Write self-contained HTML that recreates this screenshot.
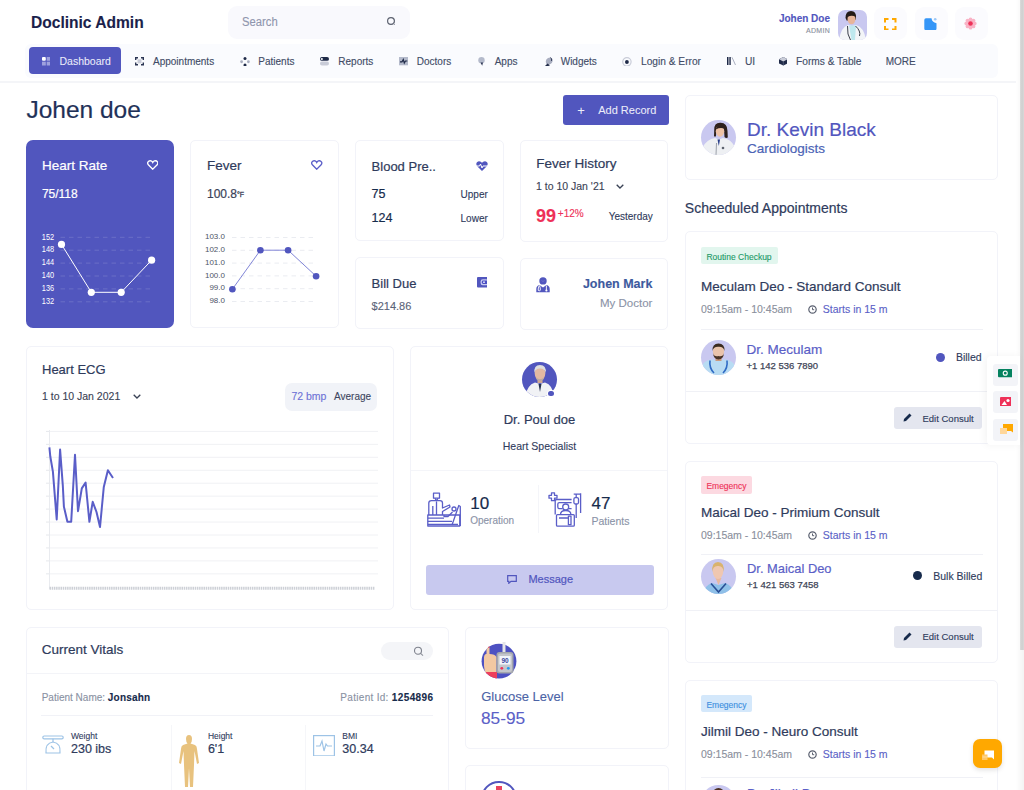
<!DOCTYPE html>
<html><head><meta charset="utf-8"><style>
html,body{margin:0;padding:0;}
body{width:1024px;height:790px;overflow:hidden;position:relative;background:#fff;font-family:"Liberation Sans",sans-serif;}
.t{position:absolute;white-space:nowrap;line-height:1;-webkit-text-stroke:0.12px currentColor;}
.b{position:absolute;}
.m{-webkit-text-stroke:0.2px currentColor;}
.m2{-webkit-text-stroke:0.1px currentColor;}
.m3{-webkit-text-stroke:0.25px currentColor;}
</style></head><body>
<div class="t " style="left:31.00px;top:14.33px;font-size:16.5px;color:#1b1f4b;font-weight:bold;transform:scaleX(0.943);transform-origin:left top;">Doclinic Admin</div>
<div class="b" style="left:228px;top:6px;width:182px;height:33px;background:#f9f9fd;border-radius:9px;"></div>
<div class="t " style="left:242.00px;top:16.17px;font-size:12.5px;color:#8f96ad;font-weight:normal;transform:scaleX(0.9);transform-origin:left top;">Search</div>
<svg class="b" style="left:386px;top:16px;" width="11" height="11" viewBox="0 0 11 11"><circle cx="5" cy="5" r="3.4" fill="none" stroke="#5d6270" stroke-width="1.2"/><path d="M7.5 7.5L8.8 8.8" stroke="#8a8f9c" stroke-width="1"/></svg>
<div class="t " style="left:430.00px;width:400px;text-align:right;top:14.03px;font-size:10px;color:#5156be;font-weight:bold;">Johen Doe</div>
<div class="t " style="left:430.00px;width:400px;text-align:right;top:27.37px;font-size:7px;color:#8a8f9c;font-weight:normal;letter-spacing:0.3px;">ADMIN</div>
<div class="b" style="left:838px;top:10px;width:29px;height:30px;background:#c9c8f0;border-radius:7px;overflow:hidden;"><svg width="29" height="30" viewBox="0 0 29 30"><path d="M1 30 Q3 17 10 15 L14 16 L18 15 Q26 17 28 30Z" fill="#f3f5f8"/><path d="M11 15.5 L13.5 30 L17 30 L18 15.5Z" fill="#bfe8ee"/><path d="M9.5 16 Q9 25 12.5 30 M17.5 16 Q23 21 21.5 26" fill="none" stroke="#3b3f4a" stroke-width="1"/><path d="M7.5 8 Q7.5 1 13 1 Q18.5 1 18 8 L17.5 10 Q14 5 9 11Z" fill="#231a18"/><ellipse cx="13.5" cy="9" rx="4" ry="5.2" fill="#e7b59a"/><path d="M9.5 7 Q10 3 13.5 3 Q17.5 3 17.8 7 Q14 4.5 9.5 7Z" fill="#231a18"/></svg></div>
<div class="b" style="left:874px;top:7px;width:33px;height:33px;background:#fbfbfe;border-radius:9px;"></div>
<div class="b" style="left:914.5px;top:7px;width:33px;height:33px;background:#fbfbfe;border-radius:9px;"></div>
<div class="b" style="left:955px;top:7px;width:33px;height:33px;background:#fbfbfe;border-radius:9px;"></div>
<svg class="b" style="left:884px;top:17.5px;" width="12.5" height="12.5" viewBox="0 0 12.5 12.5"><path d="M1 4.5V1h3.5M8 1h3.5v3.5M11.5 8v3.5H8M4.5 11.5H1V8" fill="none" stroke="#ffa800" stroke-width="2"/></svg>
<svg class="b" style="left:924px;top:17.5px;" width="13" height="12.5" viewBox="0 0 13 12.5"><path d="M0.3 2Q0.3 0.3 2 0.3H7.5Q8 4.5 12.5 5.2V10.5Q12.5 12.2 10.8 12.2H2Q0.3 12.2 0.3 10.5Z" fill="#3596f7"/><circle cx="11.2" cy="1.3" r="1.3" fill="#9cc8f7"/></svg>
<svg class="b" style="left:964px;top:17.2px;" width="13" height="13" viewBox="0 0 13 13"><circle cx="10.70" cy="6.50" r="1.9" fill="#f9b3c6"/><circle cx="9.47" cy="9.47" r="1.9" fill="#f9b3c6"/><circle cx="6.50" cy="10.70" r="1.9" fill="#f9b3c6"/><circle cx="3.53" cy="9.47" r="1.9" fill="#f9b3c6"/><circle cx="2.30" cy="6.50" r="1.9" fill="#f9b3c6"/><circle cx="3.53" cy="3.53" r="1.9" fill="#f9b3c6"/><circle cx="6.50" cy="2.30" r="1.9" fill="#f9b3c6"/><circle cx="9.47" cy="3.53" r="1.9" fill="#f9b3c6"/><circle cx="6.5" cy="6.5" r="4" fill="#f9b3c6"/><circle cx="6.5" cy="6.5" r="2.3" fill="#ee3158"/></svg>
<div class="b" style="left:25px;top:43.5px;width:973px;height:34px;background:#fafbfe;border-radius:6px;"></div>
<div class="b" style="left:0px;top:81px;width:1016px;height:2px;background:#f4f5f8;"></div>
<div class="b" style="left:29px;top:47px;width:92px;height:27px;background:#5156be;border-radius:4px;"></div>
<svg class="b" style="left:41.5px;top:57px;" width="8.5" height="8.5" viewBox="0 0 8.5 8.5"><rect x="0" y="0" width="3.8" height="3.8" rx="1" fill="#fff"/><rect x="4.7" y="0" width="3.8" height="3.8" fill="#9ea1de"/><rect x="0" y="4.7" width="3.8" height="3.8" fill="#9ea1de"/><rect x="4.7" y="4.7" width="3.8" height="3.8" fill="#9ea1de"/></svg>
<div class="t " style="left:59.50px;top:55.91px;font-size:10.5px;color:#ecedfa;font-weight:normal;-webkit-text-stroke:0.05px currentColor;">Dashboard</div>
<div class="t " style="left:153.00px;top:56.93px;font-size:10px;color:#414b66;font-weight:normal;transform:scaleX(1.0);transform-origin:left top;">Appointments</div>
<div class="t " style="left:258.30px;top:56.93px;font-size:10px;color:#414b66;font-weight:normal;transform:scaleX(1.0);transform-origin:left top;">Patients</div>
<div class="t " style="left:338.30px;top:56.93px;font-size:10px;color:#414b66;font-weight:normal;transform:scaleX(1.0);transform-origin:left top;">Reports</div>
<div class="t " style="left:416.80px;top:56.93px;font-size:10px;color:#414b66;font-weight:normal;transform:scaleX(1.0);transform-origin:left top;">Doctors</div>
<div class="t " style="left:494.70px;top:56.93px;font-size:10px;color:#414b66;font-weight:normal;transform:scaleX(1.0);transform-origin:left top;">Apps</div>
<div class="t " style="left:560.70px;top:56.93px;font-size:10px;color:#414b66;font-weight:normal;transform:scaleX(1.0);transform-origin:left top;">Widgets</div>
<div class="t " style="left:641.00px;top:55.91px;font-size:10.5px;color:#414b66;font-weight:normal;transform:scaleX(0.97);transform-origin:left top;">Login &amp; Error</div>
<div class="t " style="left:744.80px;top:55.91px;font-size:10.5px;color:#414b66;font-weight:normal;transform:scaleX(0.97);transform-origin:left top;">UI</div>
<div class="t " style="left:796.00px;top:55.91px;font-size:10.5px;color:#414b66;font-weight:normal;transform:scaleX(0.97);transform-origin:left top;">Forms &amp; Table</div>
<div class="t " style="left:885.70px;top:56.93px;font-size:10px;color:#414b66;font-weight:normal;transform:scaleX(1.0);transform-origin:left top;">MORE</div>
<svg class="b" style="left:135px;top:57px;" width="9" height="8.5" viewBox="0 0 9 8.5"><path d="M0.7 3V0.7H3M6 0.7H8.3V3M8.3 5.5V7.8H6M3 7.8H0.7V5.5" fill="none" stroke="#2b3553" stroke-width="1.4"/><rect x="2.5" y="2.3" width="4" height="4" fill="#c9ccd8"/></svg>
<svg class="b" style="left:240px;top:56.5px;" width="10" height="9.5" viewBox="0 0 10 9.5"><circle cx="5" cy="1.6" r="1.5" fill="#1f2a48"/><circle cx="5" cy="7.9" r="1.5" fill="#1f2a48"/><circle cx="1.6" cy="4.75" r="1.4" fill="#a9aec0"/><circle cx="8.4" cy="4.75" r="1.4" fill="#a9aec0"/></svg>
<svg class="b" style="left:320px;top:57px;" width="9" height="8.5" viewBox="0 0 9 8.5"><rect x="0" y="0" width="9" height="3.8" rx="1.9" fill="#1f2a48"/><circle cx="1.9" cy="1.9" r="1" fill="#fff"/><rect x="0" y="4.6" width="9" height="3.8" rx="1.9" fill="#c9ccd8"/></svg>
<svg class="b" style="left:398.8px;top:57.3px;" width="9.3" height="8.3" viewBox="0 0 9.3 8.3"><rect x="0" y="0" width="9.3" height="8.3" fill="#b4bacb"/><path d="M1 4.8H3L4.3 2.5L5.3 6L6.5 4H8.3" fill="none" stroke="#1f2a48" stroke-width="1.2"/></svg>
<svg class="b" style="left:478.4px;top:56.8px;" width="7" height="9" viewBox="0 0 7 9"><circle cx="3.5" cy="3.3" r="3.2" fill="#b4bacb"/><path d="M2.5 5.5L4.2 8.8L5 5.5Z" fill="#2b3553"/></svg>
<svg class="b" style="left:543.5px;top:56.7px;" width="9" height="9.2" viewBox="0 0 9 9.2"><path d="M2.5 7 Q0.5 3 4 1 Q7.5 -0.5 8.7 2.5 Q9 6 5.5 7.5Z" fill="#a9aec0"/><path d="M1 9 L3.5 6.5 L6 8.2 L4 9.2Z" fill="#1f2a48"/><path d="M6.5 0.5 Q8 1.5 7.5 4" fill="none" stroke="#2b3553" stroke-width="0.9"/></svg>
<svg class="b" style="left:622.2px;top:56.7px;" width="9.8" height="9.7" viewBox="0 0 9.8 9.7"><circle cx="4.9" cy="4.85" r="4.2" fill="none" stroke="#c9ccd8" stroke-width="1.2"/><circle cx="4.9" cy="5" r="1.9" fill="#1f2a48"/></svg>
<svg class="b" style="left:727.4px;top:57px;" width="9" height="8.2" viewBox="0 0 9 8.2"><rect x="0" y="0" width="1.5" height="8.2" fill="#1f2a48"/><rect x="2.3" y="0" width="1.5" height="8.2" fill="#2b3553"/><path d="M5 0.3L8.5 8" stroke="#a9aec0" stroke-width="1"/></svg>
<svg class="b" style="left:778.6px;top:57px;" width="8.6" height="8.6" viewBox="0 0 8.6 8.6"><path d="M4.3 0L8.6 2.2V6.4L4.3 8.6L0 6.4V2.2Z" fill="#1f2a48"/><path d="M4.3 0L8.6 2.2L4.3 4.4L0 2.2Z" fill="#c9ccd8"/><path d="M4.3 4.4V8.6" stroke="#6c7390" stroke-width="0.6"/></svg>
<div class="b" style="left:1016px;top:0px;width:8px;height:790px;background:linear-gradient(to right,#fff,#f3f3f3);"></div>
<div class="b" style="left:1020px;top:0px;width:3.5px;height:650px;background:linear-gradient(to right,#dcdcdc,#cfcfcf,#d8d8d8);"></div>
<div class="t m" style="left:26.40px;top:98.16px;font-size:24.5px;color:#1f3158;font-weight:normal;">Johen doe</div>
<div class="b" style="left:563px;top:95px;width:106px;height:30px;background:#5156be;border-radius:3px;"></div>
<div class="t " style="left:577.30px;top:103.59px;font-size:13px;color:#ecedfa;font-weight:normal;-webkit-text-stroke:0;">+</div>
<div class="t " style="left:598.20px;top:105.49px;font-size:11px;color:#ecedfa;font-weight:normal;-webkit-text-stroke:0.05px currentColor;">Add Record</div>
<div class="b" style="left:26px;top:140px;width:148px;height:188px;background:#5156be;border-radius:7px;"></div>
<div class="t m" style="left:42.00px;top:159.07px;font-size:13.5px;color:#fff;font-weight:normal;">Heart Rate</div>
<div class="t m" style="left:41.90px;top:187.64px;font-size:12px;color:#fff;font-weight:normal;">75/118</div>
<svg class="b" style="left:146.5px;top:160.2px;" width="11.5" height="10" viewBox="0 0 13 11"><path d="M6.5 10.2 L1.8 5.6 Q0.2 3.8 1 2.2 Q2.4 0.2 4.6 0.9 Q5.9 1.4 6.5 2.6 Q7.1 1.4 8.4 0.9 Q10.6 0.2 12 2.2 Q12.8 3.8 11.2 5.6 Z" fill="none" stroke="#fff" stroke-width="1.5"/></svg>
<svg class="b" style="left:0;top:0" width="1024" height="790"><line x1="60.5" y1="237.3" x2="152.6" y2="237.3" stroke="rgba(255,255,255,0.15)" stroke-width="1" stroke-dasharray="4.5 4"/><text x="41.8" y="239.5" font-size="8.2" fill="#fff" font-family="Liberation Sans" textLength="12.3" lengthAdjust="spacingAndGlyphs">152</text><line x1="60.5" y1="250.20000000000002" x2="152.6" y2="250.20000000000002" stroke="rgba(255,255,255,0.15)" stroke-width="1" stroke-dasharray="4.5 4"/><text x="41.8" y="252.4" font-size="8.2" fill="#fff" font-family="Liberation Sans" textLength="12.3" lengthAdjust="spacingAndGlyphs">148</text><line x1="60.5" y1="263.1" x2="152.6" y2="263.1" stroke="rgba(255,255,255,0.15)" stroke-width="1" stroke-dasharray="4.5 4"/><text x="41.8" y="265.3" font-size="8.2" fill="#fff" font-family="Liberation Sans" textLength="12.3" lengthAdjust="spacingAndGlyphs">144</text><line x1="60.5" y1="276.0" x2="152.6" y2="276.0" stroke="rgba(255,255,255,0.15)" stroke-width="1" stroke-dasharray="4.5 4"/><text x="41.8" y="278.2" font-size="8.2" fill="#fff" font-family="Liberation Sans" textLength="12.3" lengthAdjust="spacingAndGlyphs">140</text><line x1="60.5" y1="288.90000000000003" x2="152.6" y2="288.90000000000003" stroke="rgba(255,255,255,0.15)" stroke-width="1" stroke-dasharray="4.5 4"/><text x="41.8" y="291.1" font-size="8.2" fill="#fff" font-family="Liberation Sans" textLength="12.3" lengthAdjust="spacingAndGlyphs">136</text><line x1="60.5" y1="301.8" x2="152.6" y2="301.8" stroke="rgba(255,255,255,0.15)" stroke-width="1" stroke-dasharray="4.5 4"/><text x="41.8" y="304.0" font-size="8.2" fill="#fff" font-family="Liberation Sans" textLength="12.3" lengthAdjust="spacingAndGlyphs">132</text><polyline points="61.5,244.4 91.3,292.3 121.2,292.3 151.6,260.2" fill="none" stroke="#fff" stroke-width="1"/><circle cx="61.5" cy="244.4" r="3.6" fill="#fff"/><circle cx="91.3" cy="292.3" r="3.6" fill="#fff"/><circle cx="121.2" cy="292.3" r="3.6" fill="#fff"/><circle cx="151.6" cy="260.2" r="3.6" fill="#fff"/></svg><div class="b" style="left:190px;top:140px;width:149px;height:188px;background:#fff;border:1px solid #f2f3f9;border-radius:5px;box-sizing:border-box;"></div>
<div class="t m" style="left:206.90px;top:158.97px;font-size:13.5px;color:#2f3b5c;font-weight:normal;">Fever</div>
<div class="t m" style="left:207.00px;top:187.64px;font-size:12px;color:#3a4258;font-weight:normal;">100.8<span style="font-size:7px;vertical-align:1px;-webkit-text-stroke:0.3px currentColor">°F</span></div>
<svg class="b" style="left:311px;top:160.2px;" width="11.5" height="10" viewBox="0 0 13 11"><path d="M6.5 10.2 L1.8 5.6 Q0.2 3.8 1 2.2 Q2.4 0.2 4.6 0.9 Q5.9 1.4 6.5 2.6 Q7.1 1.4 8.4 0.9 Q10.6 0.2 12 2.2 Q12.8 3.8 11.2 5.6 Z" fill="none" stroke="#5a5ec8" stroke-width="1.5"/></svg>
<svg class="b" style="left:0;top:0" width="1024" height="790"><line x1="232" y1="237.5" x2="317" y2="237.5" stroke="#eaecf1" stroke-width="1" stroke-dasharray="4.5 4"/><text x="225" y="239.1" font-size="8" fill="#4e5466" text-anchor="end" font-family="Liberation Sans">103.0</text><line x1="232" y1="250.3" x2="317" y2="250.3" stroke="#eaecf1" stroke-width="1" stroke-dasharray="4.5 4"/><text x="225" y="251.9" font-size="8" fill="#4e5466" text-anchor="end" font-family="Liberation Sans">102.0</text><line x1="232" y1="263.1" x2="317" y2="263.1" stroke="#eaecf1" stroke-width="1" stroke-dasharray="4.5 4"/><text x="225" y="264.70000000000005" font-size="8" fill="#4e5466" text-anchor="end" font-family="Liberation Sans">101.0</text><line x1="232" y1="275.9" x2="317" y2="275.9" stroke="#eaecf1" stroke-width="1" stroke-dasharray="4.5 4"/><text x="225" y="277.5" font-size="8" fill="#4e5466" text-anchor="end" font-family="Liberation Sans">100.0</text><line x1="232" y1="288.7" x2="317" y2="288.7" stroke="#eaecf1" stroke-width="1" stroke-dasharray="4.5 4"/><text x="225" y="290.3" font-size="8" fill="#4e5466" text-anchor="end" font-family="Liberation Sans">99.0</text><line x1="232" y1="301.5" x2="317" y2="301.5" stroke="#eaecf1" stroke-width="1" stroke-dasharray="4.5 4"/><text x="225" y="303.1" font-size="8" fill="#4e5466" text-anchor="end" font-family="Liberation Sans">98.0</text><polyline points="232.4,289.2 260.4,250.2 288.1,250.2 316.1,276.2" fill="none" stroke="#7377d2" stroke-width="0.9"/><circle cx="232.4" cy="289.2" r="3.3" fill="#5156be"/><circle cx="260.4" cy="250.2" r="3.3" fill="#5156be"/><circle cx="288.1" cy="250.2" r="3.3" fill="#5156be"/><circle cx="316.1" cy="276.2" r="3.3" fill="#5156be"/></svg><div class="b" style="left:355px;top:140px;width:149px;height:101px;background:#fff;border:1px solid #f2f3f9;border-radius:5px;box-sizing:border-box;"></div>
<div class="t m" style="left:371.60px;top:159.69px;font-size:13px;color:#2f3b5c;font-weight:normal;">Blood Pre..</div>
<svg class="b" style="left:476px;top:160.5px;" width="12" height="10" viewBox="0 0 12 10"><path d="M6 10 L1.2 5.2 Q-0.5 3 1 1.3 Q2.7 -0.5 4.8 0.8 Q5.6 1.3 6 2 Q6.4 1.3 7.2 0.8 Q9.3 -0.5 11 1.3 Q12.5 3 10.8 5.2 Z" fill="#5156be"/><path d="M0.5 5H3.5L4.5 3L6 7L7 5H11.5" fill="none" stroke="#fff" stroke-width="1"/></svg>
<div class="t m" style="left:371.60px;top:188.32px;font-size:12.5px;color:#172b4c;font-weight:normal;">75</div>
<div class="t " style="left:87.80px;width:400px;text-align:right;top:189.93px;font-size:10px;color:#2f3b5c;font-weight:normal;">Upper</div>
<div class="t m" style="left:371.60px;top:211.52px;font-size:12.5px;color:#172b4c;font-weight:normal;">124</div>
<div class="t " style="left:87.80px;width:400px;text-align:right;top:213.63px;font-size:10px;color:#2f3b5c;font-weight:normal;">Lower</div>
<div class="b" style="left:520px;top:140px;width:148px;height:102px;background:#fff;border:1px solid #f2f3f9;border-radius:5px;box-sizing:border-box;"></div>
<div class="t m" style="left:536.20px;top:156.77px;font-size:13.5px;color:#2f3b5c;font-weight:normal;">Fever History</div>
<div class="t " style="left:536.00px;top:181.21px;font-size:10.5px;color:#3a4255;font-weight:normal;">1 to 10 Jan '21</div>
<svg class="b" style="left:616px;top:183.5px;" width="8" height="5" viewBox="0 0 8 5"><path d="M0.7 0.7L4 4L7.3 0.7" fill="none" stroke="#3a4255" stroke-width="1.3"/></svg>
<div class="t " style="left:536.00px;top:207.34px;font-size:18.5px;color:#ee3158;font-weight:bold;transform:scaleX(0.97);transform-origin:left top;">99</div>
<div class="t " style="left:557.80px;top:208.73px;font-size:10px;color:#ee3158;font-weight:normal;">+12%</div>
<div class="t " style="left:252.80px;width:400px;text-align:right;top:212.03px;font-size:10px;color:#2f3b5c;font-weight:normal;">Yesterday</div>
<div class="b" style="left:355px;top:257px;width:149px;height:72px;background:#fff;border:1px solid #f2f3f9;border-radius:5px;box-sizing:border-box;"></div>
<div class="t m" style="left:371.60px;top:276.69px;font-size:13px;color:#2f3b5c;font-weight:normal;">Bill Due</div>
<div class="t " style="left:371.60px;top:300.89px;font-size:11px;color:#5a6378;font-weight:normal;">$214.86</div>
<svg class="b" style="left:476.5px;top:277px;" width="10.5" height="10.5" viewBox="0 0 10.5 10.5"><rect x="0" y="0" width="10.5" height="10.5" rx="1" fill="#5156be"/><rect x="3.6" y="2.2" width="7.5" height="6" rx="2.2" fill="#c9cbf0"/><rect x="4.8" y="3.4" width="6" height="3.6" rx="1.4" fill="#4a4ec4"/><circle cx="7" cy="5.2" r="0.9" fill="#e8e9fa"/></svg>
<div class="b" style="left:520px;top:258px;width:148px;height:72px;background:#fff;border:1px solid #f2f3f9;border-radius:5px;box-sizing:border-box;"></div>
<div class="t " style="left:252.40px;width:400px;text-align:right;top:278.42px;font-size:12.5px;color:#3d5a9e;font-weight:bold;">Johen Mark</div>
<div class="t " style="left:252.40px;width:400px;text-align:right;top:297.56px;font-size:11.5px;color:#8b93a7;font-weight:normal;">My Doctor</div>
<svg class="b" style="left:535.8px;top:277px;" width="14" height="15.5" viewBox="0 0 14 15.5"><circle cx="7" cy="3.9" r="3.7" fill="#5156be"/><path d="M0.3 15.3 V12 Q0.3 8.6 3.5 7.9 L7 10.4 L10.5 7.9 Q13.7 8.6 13.7 12 V15.3Z" fill="#5156be"/><path d="M3.2 8.6 Q2 11 2.2 13.3 Q3.2 14.3 4.3 13.3 Q4.5 11 3.6 8.6 M10.4 8.6 V13.5" fill="none" stroke="#fff" stroke-width="0.9"/><circle cx="10.4" cy="13.5" r="1.1" fill="#fff"/><path d="M5.5 3.5 Q7 5.5 8.5 3.5" fill="none" stroke="#7d80d4" stroke-width="0.6"/></svg>
<div class="b" style="left:26px;top:346px;width:368px;height:264px;background:#fff;border:1px solid #f2f3f9;border-radius:5px;box-sizing:border-box;"></div>
<div class="t m" style="left:42.00px;top:362.69px;font-size:13px;color:#2f3b5c;font-weight:normal;">Heart ECG</div>
<div class="t " style="left:42.00px;top:391.21px;font-size:10.5px;color:#3a4255;font-weight:normal;">1 to 10 Jan 2021</div>
<svg class="b" style="left:132.5px;top:393.5px;" width="8" height="5" viewBox="0 0 8 5"><path d="M0.7 0.7L4 4L7.3 0.7" fill="none" stroke="#3a4255" stroke-width="1.3"/></svg>
<div class="b" style="left:285px;top:382.5px;width:92px;height:28.5px;background:#f1f3f8;border-radius:7px;"></div>
<div class="t " style="left:291.40px;top:391.31px;font-size:10.5px;color:#6d71d6;font-weight:normal;">72 bmp</div>
<div class="t m2" style="left:334.00px;top:391.73px;font-size:10px;color:#3d4660;font-weight:normal;">Average</div>
<svg class="b" style="left:0;top:0" width="1024" height="790"><line x1="49.5" y1="431.4" x2="378" y2="431.4" stroke="#f0f1f4" stroke-width="1"/><line x1="46" y1="431.4" x2="49.5" y2="431.4" stroke="#e6e8ec" stroke-width="1"/><line x1="49.5" y1="444.34999999999997" x2="378" y2="444.34999999999997" stroke="#f0f1f4" stroke-width="1"/><line x1="46" y1="444.34999999999997" x2="49.5" y2="444.34999999999997" stroke="#e6e8ec" stroke-width="1"/><line x1="49.5" y1="457.29999999999995" x2="378" y2="457.29999999999995" stroke="#f0f1f4" stroke-width="1"/><line x1="46" y1="457.29999999999995" x2="49.5" y2="457.29999999999995" stroke="#e6e8ec" stroke-width="1"/><line x1="49.5" y1="470.25" x2="378" y2="470.25" stroke="#f0f1f4" stroke-width="1"/><line x1="46" y1="470.25" x2="49.5" y2="470.25" stroke="#e6e8ec" stroke-width="1"/><line x1="49.5" y1="483.2" x2="378" y2="483.2" stroke="#f0f1f4" stroke-width="1"/><line x1="46" y1="483.2" x2="49.5" y2="483.2" stroke="#e6e8ec" stroke-width="1"/><line x1="49.5" y1="496.15" x2="378" y2="496.15" stroke="#f0f1f4" stroke-width="1"/><line x1="46" y1="496.15" x2="49.5" y2="496.15" stroke="#e6e8ec" stroke-width="1"/><line x1="49.5" y1="509.09999999999997" x2="378" y2="509.09999999999997" stroke="#f0f1f4" stroke-width="1"/><line x1="46" y1="509.09999999999997" x2="49.5" y2="509.09999999999997" stroke="#e6e8ec" stroke-width="1"/><line x1="49.5" y1="522.05" x2="378" y2="522.05" stroke="#f0f1f4" stroke-width="1"/><line x1="46" y1="522.05" x2="49.5" y2="522.05" stroke="#e6e8ec" stroke-width="1"/><line x1="49.5" y1="535.0" x2="378" y2="535.0" stroke="#f0f1f4" stroke-width="1"/><line x1="46" y1="535.0" x2="49.5" y2="535.0" stroke="#e6e8ec" stroke-width="1"/><line x1="49.5" y1="547.9499999999999" x2="378" y2="547.9499999999999" stroke="#f0f1f4" stroke-width="1"/><line x1="46" y1="547.9499999999999" x2="49.5" y2="547.9499999999999" stroke="#e6e8ec" stroke-width="1"/><line x1="49.5" y1="560.9" x2="378" y2="560.9" stroke="#f0f1f4" stroke-width="1"/><line x1="46" y1="560.9" x2="49.5" y2="560.9" stroke="#e6e8ec" stroke-width="1"/><line x1="49.5" y1="573.8499999999999" x2="378" y2="573.8499999999999" stroke="#f0f1f4" stroke-width="1"/><line x1="46" y1="573.8499999999999" x2="49.5" y2="573.8499999999999" stroke="#e6e8ec" stroke-width="1"/><line x1="49.5" y1="430" x2="49.5" y2="589" stroke="#e9ebef" stroke-width="1"/><line x1="49.5" y1="588.3" x2="375" y2="588.3" stroke="#cdd0d6" stroke-width="3" stroke-dasharray="1.5 0.7"/><polyline points="49.4,447.4 50.3,456.5 52.9,471.7 56.7,519.5 60.1,449.6 62.8,485.3 63.9,506.6 67.4,521.8 71.2,521.8 75,454.7 78,511.2 81.8,488.4 85.6,482.6 89.4,521.8 92.7,501.8 96.5,512 100,527.1 103.8,486.9 107.9,470.2 113,478" fill="none" stroke="#5a5ec8" stroke-width="2" stroke-linejoin="round"/></svg><div class="b" style="left:410px;top:346px;width:258px;height:264px;background:#fff;border:1px solid #f2f3f9;border-radius:5px;box-sizing:border-box;"></div>
<div class="b" style="left:411px;top:469.5px;width:256px;height:1px;background:#f4f5f9;"></div>
<div class="b" style="left:522px;top:362px;width:35px;height:35px;background:#5156be;border-radius:50%;overflow:hidden;"><svg width="35" height="35" viewBox="0 0 35 35"><path d="M3 35 Q5 23 13 20.5 L18 22 L23 20.5 Q31 23 32 35Z" fill="#f1f2f5"/><path d="M16.5 22 L18 30 L19.5 22Z" fill="#26324f"/><rect x="15.5" y="16" width="5" height="5" fill="#d3a88f"/><ellipse cx="18" cy="11.5" rx="5.3" ry="7" fill="#e2b9a2"/><path d="M12.5 11 Q11.5 3 18 3 Q24.5 3 23.8 11 Q23 6.5 18 6.5 Q13 6.5 12.5 11Z" fill="#dedede"/><path d="M14 15.5 Q18 19 22 15.5 Q22 18.5 18 19 Q14 18.5 14 15.5Z" fill="#b9a9a0"/></svg></div>
<div class="b" style="left:548px;top:390.5px;width:5.5px;height:5.5px;background:#5156be;border-radius:50%;box-shadow:0 0 0 1px #fff;"></div>
<div class="t m" style="left:339.50px;width:400px;text-align:center;top:412.69px;font-size:13px;color:#2f3b5c;font-weight:normal;">Dr. Poul doe</div>
<div class="t m2" style="left:339.50px;width:400px;text-align:center;top:441.01px;font-size:10.5px;color:#2f3b5c;font-weight:normal;">Heart Specialist</div>
<div class="t m" style="left:470.20px;top:494.71px;font-size:17px;color:#172b4c;font-weight:normal;">10</div>
<div class="t " style="left:470.20px;top:515.93px;font-size:10px;color:#8b93a7;font-weight:normal;">Operation</div>
<div class="t m" style="left:591.50px;top:494.71px;font-size:17px;color:#172b4c;font-weight:normal;">47</div>
<div class="t " style="left:591.50px;top:515.51px;font-size:10.5px;color:#8b93a7;font-weight:normal;">Patients</div>
<div class="b" style="left:538px;top:485px;width:1px;height:48px;background:#f4f5f9;"></div>
<svg class="b" style="left:422px;top:488px;" width="44" height="42" viewBox="0 0 44 42"><g fill="none" stroke="#5a5ec8" stroke-width="1.3" stroke-linejoin="round"><rect x="5.8" y="27" width="32" height="11"/><path d="M5.8 30.2H22M5.8 33.4H30M5.8 36.4H36"/><rect x="11.5" y="5.2" width="6" height="5"/><path d="M13 10.2L14.5 13L16 10.2"/><path d="M6.8 27V15Q6.8 12.6 9.5 12.6H18Q20.5 12.6 20.5 15V20L27.5 17L28 19L20.5 23.5V27"/><path d="M10.8 18V27M14.5 14V27"/><path d="M30 37L36.8 17.5L38.3 18.5V38"/><circle cx="32" cy="21" r="2"/><path d="M22 27V28.5H26L30.5 24"/></g></svg>
<svg class="b" style="left:545px;top:488px;" width="42" height="42" viewBox="0 0 42 42"><g fill="none" stroke="#5a5ec8" stroke-width="1.3" stroke-linejoin="round"><path d="M6.5 4.8H9.5V7.3H12V10.2H9.5V12.7H6.5V10.2H4V7.3H6.5Z"/><path d="M26.6 11.5H11.8Q10.2 11.5 10.2 13.1V26.5"/><path d="M26.6 14.6H14.3Q12.8 14.6 12.8 16.2V19Q12.8 20.6 14.3 20.6H17.5M24 20.6H26.6"/><circle cx="20.7" cy="19" r="3"/><path d="M15.5 26.6Q15.5 22.5 20.7 22.5Q25.9 22.5 25.9 26.6"/><rect x="11.5" y="26.6" width="17.8" height="11.6" rx="1"/><path d="M14 30H23.4M23.4 28.2V36.7H26V28.2Z"/><path d="M35.6 5.3V25M28.7 6.1H36.2"/><rect x="28.9" y="9.6" width="4.6" height="6.4" rx="1.5"/><path d="M31.2 6.1V9.6M31.2 16V30"/></g></svg>
<div class="b" style="left:425.5px;top:564.5px;width:228px;height:30px;background:#c8c9ef;border-radius:3px;"></div>
<svg class="b" style="left:507px;top:575px;" width="10" height="9" viewBox="0 0 10 9"><path d="M0.7 0.7H9.3V6.3H4L1.8 8.3V6.3H0.7Z" fill="none" stroke="#5156be" stroke-width="1.2"/></svg>
<div class="t m" style="left:528.40px;top:574.29px;font-size:11px;color:#5156be;font-weight:normal;">Message</div>
<div class="b" style="left:26px;top:626.5px;width:423px;height:200px;background:#fff;border:1px solid #f2f3f9;border-radius:5px;box-sizing:border-box;"></div>
<div class="b" style="left:27px;top:673px;width:421px;height:1px;background:#f3f4f8;"></div>
<div class="t m" style="left:41.70px;top:643.47px;font-size:13.5px;color:#2f3b5c;font-weight:normal;">Current Vitals</div>
<div class="b" style="left:381px;top:642.3px;width:51.6px;height:18px;background:#f4f5f8;border-radius:9px;"></div>
<svg class="b" style="left:413px;top:645.5px;" width="11" height="11" viewBox="0 0 11 11"><circle cx="5" cy="4.7" r="3.5" fill="none" stroke="#7d818c" stroke-width="1.1"/><path d="M7.6 7.3L10 9.6" stroke="#8e929c" stroke-width="1.1"/></svg>
<div class="t " style="left:41.70px;top:692.93px;font-size:10px;color:#8a92a3;font-weight:normal;">Patient Name: <b style="color:#172b4c;letter-spacing:0.2px">Jonsahn</b></div>
<div class="t " style="left:33.50px;width:400px;text-align:right;top:692.93px;font-size:10px;color:#8a92a3;font-weight:normal;letter-spacing:0.3px;">Patient Id: <b style="color:#172b4c;letter-spacing:0.4px">1254896</b></div>
<div class="b" style="left:41px;top:715px;width:392px;height:1px;background:#f1f2f7;"></div>
<div class="b" style="left:170.5px;top:725px;width:1px;height:65px;background:#f5f6f9;"></div>
<div class="b" style="left:304.5px;top:725px;width:1px;height:65px;background:#f5f6f9;"></div>
<div class="t m2" style="left:71.00px;top:731.80px;font-size:8.5px;color:#2f3b5c;font-weight:normal;">Weight</div>
<div class="t m" style="left:71.00px;top:742.92px;font-size:12.5px;color:#2f3b5c;font-weight:normal;">230 ibs</div>
<div class="t m2" style="left:207.90px;top:731.80px;font-size:8.5px;color:#2f3b5c;font-weight:normal;">Height</div>
<div class="t m" style="left:207.90px;top:742.92px;font-size:12.5px;color:#2f3b5c;font-weight:normal;">6'1</div>
<div class="t m2" style="left:342.30px;top:731.80px;font-size:8.5px;color:#2f3b5c;font-weight:normal;">BMI</div>
<div class="t m" style="left:342.30px;top:742.92px;font-size:12.5px;color:#2f3b5c;font-weight:normal;">30.34</div>
<svg class="b" style="left:41.5px;top:734.5px;" width="22" height="19" viewBox="0 0 22 19"><g fill="none" stroke="#9dc3e6" stroke-width="1.2"><rect x="0.8" y="1" width="20.4" height="2.8" rx="1.4"/><path d="M11 3.8V7"/><path d="M4 18Q3 8 11 7Q19 8 18 18Z"/><path d="M9 11L12 14"/></g></svg>
<svg class="b" style="left:177.5px;top:734.5px;" width="22" height="52.5" viewBox="0 0 22 52.5"><path d="M11 0Q14 0 14 4Q14 7 12.5 8.5L17 10Q19 11 19 14L21 28L19 29L16.5 16L16 30L15 52H12L11 33L10 52H7L6 30L5.5 16L3 29L1 28L3 14Q3 11 5 10L9.5 8.5Q8 7 8 4Q8 0 11 0Z" fill="#e8c27e"/></svg>
<svg class="b" style="left:313px;top:734.5px;" width="22" height="21.5" viewBox="0 0 22 21.5"><g fill="none" stroke="#9dc3e6" stroke-width="1.2"><rect x="0.6" y="0.6" width="20.8" height="20.3"/><path d="M3 11H7L9 6L11 16L13 9L14.5 11H19"/></g></svg>
<div class="b" style="left:464.5px;top:627px;width:204px;height:121.5px;background:#fff;border:1px solid #f2f3f9;border-radius:5px;box-sizing:border-box;"></div>
<svg class="b" style="left:479px;top:640px;" width="40" height="42" viewBox="0 0 40 42"><defs><clipPath id="gc"><circle cx="20" cy="21.2" r="17.4"/></clipPath></defs><circle cx="20" cy="21.2" r="17.4" fill="#4d51c2"/><g clip-path="url(#gc)"><path d="M5 18 Q5 14 7.5 14 L7.5 8 Q7.5 5.5 9 5.5 Q10.5 5.5 10.5 8 L10.5 14 Q16 14 17.5 17 L17.5 33 L6 33 Q4.5 26 5 18Z" fill="#f3c8a2"/><path d="M7.5 5 Q9 3.5 10.5 5 L10.5 8 L7.5 8Z" fill="#e9435e"/><rect x="7" y="32" width="11" height="8" fill="#ee3f5c"/></g><rect x="23.5" y="2" width="3" height="11" fill="#e6e6e8"/><rect x="17.5" y="12" width="17" height="21.5" rx="3" fill="#a3a6ad"/><rect x="19" y="13.5" width="14" height="18.5" rx="2" fill="#c4c6cc"/><rect x="20.5" y="16" width="11" height="8.5" fill="#f2f5fb"/><text x="26" y="23" font-size="6.5" text-anchor="middle" fill="#3b4a9e" font-family="Liberation Sans" font-weight="bold">90</text><circle cx="22.8" cy="28.3" r="1.4" fill="#ee3158"/><circle cx="29.3" cy="28.3" r="1.4" fill="#1e9bf0"/></svg>
<div class="t m2" style="left:481.20px;top:690.39px;font-size:13px;color:#4b63a6;font-weight:normal;">Glucose Level</div>
<div class="t " style="left:481.20px;top:710.75px;font-size:16px;color:#5b5fc7;font-weight:normal;transform:scaleX(1.08);transform-origin:left top;">85-95</div>
<div class="b" style="left:464.5px;top:765px;width:204px;height:100px;background:#fff;border:1px solid #f2f3f9;border-radius:5px;box-sizing:border-box;"></div>
<div class="b" style="left:481px;top:781px;width:35.5px;height:35.5px;background:#fff;border:2.5px solid #5156be;border-radius:50%;box-sizing:border-box;"></div>
<div class="b" style="left:496px;top:786px;width:6px;height:4px;background:#e9435e;"></div>
<div class="b" style="left:685px;top:95px;width:313px;height:85px;background:#fff;border:1px solid #f2f3f9;border-radius:5px;box-sizing:border-box;"></div>
<div class="b" style="left:700.5px;top:119.5px;width:35.5px;height:35.5px;background:#c9c8f0;border-radius:50%;overflow:hidden;"><svg width="35" height="35" viewBox="0 0 35 35"><path d="M1 28 Q6 19 14 18 L18 19.5 L22 18 Q30 19 34 27 L34 35 L1 35Z" fill="#eef0f3"/><path d="M1 28 Q4 30 8 35 L1 35Z" fill="#9aa0aa"/><path d="M16.5 19.5 L17.8 26 L19 19.5Z" fill="#2a3f8a"/><path d="M15.5 23 L15 35" fill="none" stroke="#9ca1aa" stroke-width="1"/><circle cx="22" cy="28" r="1.3" fill="#5d636e"/><path d="M13.2 10 Q13 2.5 19.5 2.8 Q26.5 3 26.5 11 L26.8 17.5 Q25 18.5 23.5 17 L23 9 Q20 6 15.5 9 L15 16 Q14 17.5 13 16Z" fill="#2e211d"/><ellipse cx="19" cy="11.2" rx="4.2" ry="5.5" fill="#eec2a6"/><path d="M14.8 9.5 Q16 4.8 20 5 Q23.5 5.5 23.5 9 Q20 6.8 14.8 9.5Z" fill="#2e211d"/></svg></div>
<div class="t m" style="left:747.00px;top:120.31px;font-size:19px;color:#5156be;font-weight:normal;">Dr. Kevin Black</div>
<div class="t m" style="left:747.00px;top:142.27px;font-size:13.5px;color:#4b63b5;font-weight:normal;">Cardiologists</div>
<div class="t m" style="left:684.80px;top:200.75px;font-size:14px;color:#2f3b5c;font-weight:normal;">Scheeduled Appointments</div>
<div class="b" style="left:685px;top:231px;width:313px;height:213px;background:#fff;border:1px solid #f2f3f9;border-radius:5px;box-sizing:border-box;"></div>
<div class="b" style="left:701px;top:247px;width:77px;height:17px;background:#e2f6ee;border-radius:2px;"></div>
<div class="t " style="left:706.40px;top:252.70px;font-size:8.5px;color:#1e9a68;font-weight:normal;">Routine Checkup</div>
<div class="t m" style="left:701.00px;top:279.97px;font-size:13.5px;color:#2f3b5c;font-weight:normal;">Meculam Deo - Standard Consult</div>
<div class="t " style="left:701.00px;top:304.41px;font-size:10.5px;color:#8a8f9c;font-weight:normal;">09:15am - 10:45am</div>
<svg class="b" style="left:807.5px;top:304.5px;" width="9" height="9" viewBox="0 0 9 9"><circle cx="4.5" cy="4.5" r="3.7" fill="none" stroke="#5a6070" stroke-width="1.2"/><path d="M4.5 2.5V4.7H6.2" fill="none" stroke="#5a6070" stroke-width="1"/></svg>
<div class="t " style="left:822.80px;top:304.41px;font-size:10.5px;color:#5b5fc7;font-weight:normal;">Starts in 15 m</div>
<div class="b" style="left:701px;top:328.5px;width:282px;height:1px;background:#f0f1f6;"></div>
<div class="b" style="left:701px;top:340.3px;width:35px;height:35px;background:#c9c8f0;border-radius:50%;overflow:hidden;"><svg width="35" height="35" viewBox="0 0 35 35"><path d="M2 24 Q6 19 12 19.5 L17 21 L22 19.5 Q29 19 33 24 L33 35 L2 35Z" fill="#b8dcf3"/><path d="M9 20.5 Q8 28 13 33 M26 20.5 Q27 28 22 33" fill="none" stroke="#2f6bc4" stroke-width="1.6"/><rect x="14.5" y="16" width="6" height="5" fill="#c99a7e"/><ellipse cx="17.5" cy="11.5" rx="5.6" ry="7" fill="#e9c3ab"/><path d="M11.6 11 Q11 3.5 17.5 3.5 Q24 3.5 23.4 11 Q22.5 6.5 17.5 6.8 Q12.5 6.5 11.6 11Z" fill="#3a2a20"/><path d="M12 13 Q12.5 19 17.5 19.5 Q22.5 19 23 13 Q22 17 17.5 16 Q13 17 12 13Z" fill="#4a3528"/></svg></div>
<div class="t m" style="left:746.50px;top:343.17px;font-size:13.5px;color:#5b5fc7;font-weight:normal;">Dr. Meculam</div>
<div class="t m3" style="left:746.50px;top:361.36px;font-size:9.5px;color:#3f4658;font-weight:normal;">+1 142 536 7890</div>
<div class="b" style="left:936px;top:352.5px;width:9px;height:9px;background:#5156be;border-radius:50%;"></div>
<div class="t " style="left:581.60px;width:400px;text-align:right;top:352.41px;font-size:10.5px;color:#2f3b5c;font-weight:normal;">Billed</div>
<div class="b" style="left:686px;top:391px;width:311px;height:1px;background:#f0f1f6;"></div>
<div class="b" style="left:894px;top:407px;width:88px;height:22px;background:#e4e6ef;border-radius:3px;"></div>
<svg class="b" style="left:903px;top:413px;" width="9" height="9" viewBox="0 0 9 9"><path d="M0.5 8.5L1 6L6.5 0.5L8.5 2.5L3 8Z" fill="#172b4c"/></svg>
<div class="t " style="left:922.50px;top:413.76px;font-size:9.5px;color:#2f3b5c;font-weight:normal;">Edit Consult</div>
<div class="b" style="left:685px;top:461px;width:313px;height:202px;background:#fff;border:1px solid #f2f3f9;border-radius:5px;box-sizing:border-box;"></div>
<div class="b" style="left:701px;top:476px;width:51px;height:17.5px;background:#fcd9e1;border-radius:2px;"></div>
<div class="t " style="left:706.40px;top:481.80px;font-size:8.5px;color:#ee3158;font-weight:normal;">Emegency</div>
<div class="t m" style="left:701.00px;top:506.07px;font-size:13.5px;color:#2f3b5c;font-weight:normal;">Maical Deo - Primium Consult</div>
<div class="t " style="left:701.00px;top:530.31px;font-size:10.5px;color:#8a8f9c;font-weight:normal;">09:15am - 10:45am</div>
<svg class="b" style="left:807.5px;top:530.5px;" width="9" height="9" viewBox="0 0 9 9"><circle cx="4.5" cy="4.5" r="3.7" fill="none" stroke="#5a6070" stroke-width="1.2"/><path d="M4.5 2.5V4.7H6.2" fill="none" stroke="#5a6070" stroke-width="1"/></svg>
<div class="t " style="left:822.80px;top:530.31px;font-size:10.5px;color:#5b5fc7;font-weight:normal;">Starts in 15 m</div>
<div class="b" style="left:701px;top:554px;width:282px;height:1px;background:#f0f1f6;"></div>
<div class="b" style="left:701px;top:559px;width:35px;height:35px;background:#c9c8f0;border-radius:50%;overflow:hidden;"><svg width="35" height="35" viewBox="0 0 35 35"><path d="M2 35 Q4 26 11 24 L17.5 26 L24 24 Q31 26 33 35Z" fill="#8fc0e8"/><path d="M10 24.5 L17.5 33 L25 24.5" fill="none" stroke="#2a4f96" stroke-width="1.6"/><path d="M14.5 19 L17.5 26 L20.5 19Z" fill="#e8b9a0"/><ellipse cx="17" cy="12.5" rx="5.2" ry="7.5" fill="#efc7b1"/><path d="M11.2 13 Q10.5 3 17 3 Q23.5 3 22.8 13 Q22 6.5 17 7 Q12 6.5 11.2 13Z" fill="#d9b36e"/></svg></div>
<div class="t m" style="left:747.00px;top:561.87px;font-size:13.5px;color:#5b5fc7;font-weight:normal;transform:scaleX(0.955);transform-origin:left top;">Dr. Maical Deo</div>
<div class="t m3" style="left:747.00px;top:579.76px;font-size:9.5px;color:#3f4658;font-weight:normal;">+1 421 563 7458</div>
<div class="b" style="left:912.7px;top:571.3px;width:9px;height:9px;background:#172b4c;border-radius:50%;"></div>
<div class="t " style="left:582.30px;width:400px;text-align:right;top:571.11px;font-size:10.5px;color:#2f3b5c;font-weight:normal;">Bulk Billed</div>
<div class="b" style="left:686px;top:609.5px;width:311px;height:1px;background:#f0f1f6;"></div>
<div class="b" style="left:894px;top:626px;width:88px;height:21.5px;background:#e4e6ef;border-radius:3px;"></div>
<svg class="b" style="left:903px;top:632px;" width="9" height="9" viewBox="0 0 9 9"><path d="M0.5 8.5L1 6L6.5 0.5L8.5 2.5L3 8Z" fill="#172b4c"/></svg>
<div class="t " style="left:922.50px;top:632.46px;font-size:9.5px;color:#2f3b5c;font-weight:normal;">Edit Consult</div>
<div class="b" style="left:685px;top:679.5px;width:313px;height:150px;background:#fff;border:1px solid #f2f3f9;border-radius:5px;box-sizing:border-box;"></div>
<div class="b" style="left:701px;top:694.6px;width:51px;height:17.5px;background:#d4e8fb;border-radius:2px;"></div>
<div class="t " style="left:706.40px;top:701.10px;font-size:8.5px;color:#3d8fe0;font-weight:normal;">Emegency</div>
<div class="t m" style="left:701.00px;top:725.17px;font-size:13.5px;color:#2f3b5c;font-weight:normal;">Jilmil Deo - Neuro Consult</div>
<div class="t " style="left:701.00px;top:749.41px;font-size:10.5px;color:#8a8f9c;font-weight:normal;">09:15am - 10:45am</div>
<svg class="b" style="left:807.5px;top:749.5px;" width="9" height="9" viewBox="0 0 9 9"><circle cx="4.5" cy="4.5" r="3.7" fill="none" stroke="#5a6070" stroke-width="1.2"/><path d="M4.5 2.5V4.7H6.2" fill="none" stroke="#5a6070" stroke-width="1"/></svg>
<div class="t " style="left:822.80px;top:749.41px;font-size:10.5px;color:#5b5fc7;font-weight:normal;">Starts in 15 m</div>
<div class="b" style="left:701px;top:777px;width:282px;height:1px;background:#f0f1f6;"></div>
<div class="b" style="left:701px;top:785px;width:35px;height:35px;background:#c9c8f0;border-radius:50%;overflow:hidden;"><svg width="35" height="35"><ellipse cx="17.5" cy="9" rx="6" ry="6" fill="#4a3020"/></svg></div>
<div class="t m" style="left:747.00px;top:787.07px;font-size:13.5px;color:#5b5fc7;font-weight:normal;">Dr. Jilmil Deo</div>
<div class="b" style="left:987px;top:356px;width:33px;height:89px;background:#fff;box-shadow:-2px 0 8px rgba(0,0,0,0.05);border-radius:4px 0 0 4px;"></div>
<div class="b" style="left:992.5px;top:363.8px;width:25px;height:22px;background:#f3f4f8;border-radius:3px;"></div>
<div class="b" style="left:992.5px;top:391px;width:25px;height:22px;background:#f3f4f8;border-radius:3px;"></div>
<div class="b" style="left:992.5px;top:418.8px;width:25px;height:22px;background:#f3f4f8;border-radius:3px;"></div>
<svg class="b" style="left:997.8px;top:369.4px;" width="14.5" height="8.5" viewBox="0 0 14.5 8.5"><rect x="0" y="0" width="14.5" height="8.3" rx="1" fill="#05825f"/><circle cx="7.25" cy="4.15" r="2" fill="none" stroke="#fff" stroke-width="1.1"/></svg>
<svg class="b" style="left:999.5px;top:396.8px;" width="11.5" height="9.5" viewBox="0 0 11.5 9.5"><rect x="0" y="0" width="11.5" height="9.5" rx="1" fill="#ee3158"/><path d="M1.5 8L4.5 4L7 8Z" fill="#fff"/><circle cx="8" cy="3.5" r="1.6" fill="#fff"/></svg>
<svg class="b" style="left:999.5px;top:423.7px;" width="13" height="10.5" viewBox="0 0 13 10.5"><path d="M3 0H13V8.5L11 7H3Z" fill="#ffa800"/><rect x="0" y="4" width="7" height="6.5" fill="#ffd79a"/></svg>
<div class="b" style="left:973px;top:739px;width:29px;height:29px;background:#ffa800;border-radius:7px;box-shadow:0 2px 5px rgba(0,0,0,0.12);"></div>
<svg class="b" style="left:981px;top:749px;" width="14" height="13" viewBox="0 0 14 13"><path d="M3.5 1.5H13V10.5L11 8.5H3.5Z" fill="#fff"/><rect x="1" y="5.5" width="5.5" height="5.5" fill="#ffc766"/><path d="M1.5 8H6" stroke="#ffe2ad" stroke-width="0.8"/></svg>

</body></html>
